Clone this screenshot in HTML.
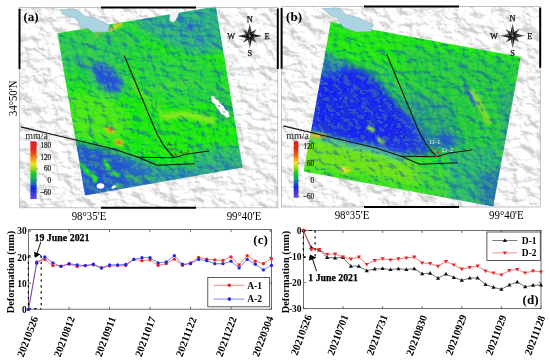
<!DOCTYPE html>
<html><head><meta charset="utf-8"><title>Deformation maps</title>
<style>
html,body{margin:0;padding:0;background:#fff;}
body{width:550px;height:361px;overflow:hidden;}
svg{display:block;font-family:'Liberation Serif', 'Times New Roman', serif;}
</style></head><body>
<svg width="550" height="361" viewBox="0 0 550 361">

<defs>
<filter id="hs" x="0" y="0" width="100%" height="100%" color-interpolation-filters="sRGB"><feTurbulence type="fractalNoise" baseFrequency="0.07 0.1" numOctaves="4" seed="5" result="n"/><feDiffuseLighting in="n" surfaceScale="7" lighting-color="#fff" diffuseConstant="1.15"><feDistantLight azimuth="315" elevation="50"/></feDiffuseLighting><feComponentTransfer><feFuncR type="linear" slope="0.22" intercept="0.795"/><feFuncG type="linear" slope="0.22" intercept="0.795"/><feFuncB type="linear" slope="0.22" intercept="0.795"/></feComponentTransfer></filter>
<filter id="rtex" x="0" y="0" width="100%" height="100%" color-interpolation-filters="sRGB"><feTurbulence type="fractalNoise" baseFrequency="0.11 0.15" numOctaves="3" seed="9" result="n"/><feDiffuseLighting in="n" surfaceScale="7" lighting-color="#fff" diffuseConstant="1.15" result="l"><feDistantLight azimuth="315" elevation="50"/></feDiffuseLighting><feColorMatrix in="l" type="matrix" values="0 0 0 0 0.16  0 0 0 0 0.3  0 0 0 0 0.75  -1.0 0 0 0 0.47" result="sh"/><feColorMatrix in="l" type="matrix" values="0 0 0 0 0.55  0 0 0 0 0.97  0 0 0 0 0.08  1.5 0 0 0 -1.28" result="hi"/><feMerge><feMergeNode in="SourceGraphic"/><feMergeNode in="sh"/><feMergeNode in="hi"/></feMerge><feComposite operator="in" in2="SourceGraphic"/></filter>
<filter id="bl4" x="-20%" y="-20%" width="140%" height="140%"><feGaussianBlur stdDeviation="3.5"/></filter>
<filter id="bl2" x="-50%" y="-50%" width="200%" height="200%"><feGaussianBlur stdDeviation="2"/></filter>
<filter id="bl1" x="-50%" y="-50%" width="200%" height="200%"><feGaussianBlur stdDeviation="0.9"/></filter>
<linearGradient id="cb" x1="0" y1="0" x2="0" y2="1"><stop offset="0" stop-color="#e21c22"/><stop offset="0.15" stop-color="#e62a1c"/><stop offset="0.233" stop-color="#f05a16"/><stop offset="0.322" stop-color="#f6a814"/><stop offset="0.391" stop-color="#efe618"/><stop offset="0.474" stop-color="#98dc18"/><stop offset="0.56" stop-color="#18c820"/><stop offset="0.643" stop-color="#16b060"/><stop offset="0.734" stop-color="#1868b8"/><stop offset="0.81" stop-color="#1424e8"/><stop offset="1" stop-color="#6a4ad8"/></linearGradient>
<clipPath id="ra"><polygon points="57.4,33.3 215.9,6.4 242.6,167.4 85,195.6"/></clipPath>
<clipPath id="rb"><polygon points="330.8,22.1 520.8,57 493.2,206.4 303.6,171.6"/></clipPath>
</defs>
<rect x="19.5" y="7.5" width="258.3" height="200.3" fill="#fff" filter="url(#hs)"/>
<rect x="281.6" y="6.6" width="258.6" height="200.4" fill="#fff" filter="url(#hs)"/>
<g clip-path="url(#ra)"><g filter="url(#rtex)">
<rect x="0" y="0" width="280" height="210" fill="#14e614"/>
<g filter="url(#bl4)">
<polygon points="135,3 222,3 226,50 200,55 175,48 150,35 135,25" fill="#26a890"/>
<polygon points="56,30 140,15 150,40 160,60 200,60 230,70 232,100 200,100 160,95 120,95 90,88 58,85" fill="#2cb080" opacity="0.3"/>
<polygon points="56,38 120,25 140,45 120,60 90,62 58,75" fill="#2cb87a" opacity="0.5"/>
<polygon points="140,50 200,55 215,90 190,110 150,100" fill="#2eb880" opacity="0.25"/>
<ellipse cx="106" cy="78" rx="22" ry="16" transform="rotate(40 106 78)" fill="#30a890" opacity="0.6"/>
<polygon points="65,95 110,95 130,120 120,140 75,138" fill="#60e620" opacity="0.6"/>
<polygon points="72,142 113,151 139,159 157,167 195,166 245,160 245,205 70,205" fill="#2870c4"/>
<polygon points="72,142 113,151 130,160 125,185 90,195 70,190" fill="#1c50d8" opacity="0.7"/>
<polygon points="150,168 200,165 200,205 150,205" fill="#28a0a0" opacity="0.6"/>
<polygon points="195,150 245,145 245,172 195,178" fill="#2aa890" opacity="0.8"/>
<polygon points="208,92 228,95 234,122 218,122" fill="#3070c8" opacity="0.35"/>
</g>
<g filter="url(#bl2)">
<polygon points="91,66 100,62 111,67 121,80 121,92 108,92 97,80" fill="#2454dc"/>
<polygon points="72,58 78,57 92,68 88,72" fill="#2a70c8" opacity="0.7"/>
<ellipse cx="190" cy="27" rx="4" ry="6" fill="#2860d0"/>
<ellipse cx="200" cy="40" rx="3" ry="4" fill="#2860d0"/>
<ellipse cx="181" cy="19" rx="3" ry="3" fill="#2860d0" opacity="0.8"/>
<polyline points="160,117 185,114 215,121" fill="none" stroke="#a8e820" stroke-width="5"/>
<polyline points="130,82 145,98 162,112" fill="none" stroke="#80e820" stroke-width="3" opacity="0.8"/>
<polyline points="150,92 172,84 195,80" fill="none" stroke="#70e820" stroke-width="2.5" opacity="0.7"/>
</g><g filter="url(#bl1)">
<polyline points="75,160 81,166 90,173 97,180" fill="none" stroke="#18f018" stroke-width="4"/>
<polyline points="103,160 107,165 110,170" fill="none" stroke="#20e828" stroke-width="4"/>
<polyline points="111,173 120,175.5" fill="none" stroke="#20e828" stroke-width="3.5"/>
<polyline points="93,181 97,182" fill="none" stroke="#30e030" stroke-width="2.5"/>
<polyline points="115,187 119,185" fill="none" stroke="#30e030" stroke-width="2.5"/>
<polyline points="112,152 130,157 148,162" fill="none" stroke="#30c070" stroke-width="4" opacity="0.7"/>
<polyline points="125,176 140,180 155,176" fill="none" stroke="#28c848" stroke-width="4" opacity="0.6"/>
</g>
<g filter="url(#bl1)">
<ellipse cx="110" cy="130" rx="5" ry="3" transform="rotate(30 110 130)" fill="#e8e020"/>
<ellipse cx="119" cy="142.5" rx="5" ry="3" transform="rotate(25 119 142.5)" fill="#e8e020"/>
<ellipse cx="110" cy="130" rx="3.2" ry="1.6" transform="rotate(30 110 130)" fill="#f03010"/>
<ellipse cx="119" cy="142.5" rx="3.2" ry="1.6" transform="rotate(25 119 142.5)" fill="#f03010"/>
<polyline points="122,23.5 115,26.5 110,31.5" fill="none" stroke="#c8e620" stroke-width="4"/>
<ellipse cx="118.5" cy="24.5" rx="2" ry="1.3" fill="#f0b010"/>
<ellipse cx="98" cy="34" rx="3.5" ry="2" fill="#90e020"/>
</g>
</g></g>
<polygon points="211,96.5 214,96 215.5,99 218.5,100.5 220,103.5 223.5,106 225,109.5 228.5,112 229.5,116.5 227,118 224.5,115.5 221,113.5 219,110 216.5,107.5 215,104 212.5,102.5 211.5,100" fill="#fafafa"/>
<circle cx="219" cy="106" r="0.8" fill="#3060d0"/><circle cx="224" cy="112" r="0.7" fill="#3060d0"/><circle cx="223" cy="104" r="1.1" fill="#2858d8"/><circle cx="226.5" cy="109" r="1" fill="#2858d8"/><circle cx="210" cy="99" r="0.9" fill="#2858d8"/>
<ellipse cx="100.5" cy="186" rx="3.8" ry="2.8" fill="#fff"/>
<ellipse cx="113.7" cy="187" rx="2.6" ry="1.3" transform="rotate(-30 113.7 187)" fill="#fff"/>
<path d="M170,12.5 L179.5,10 C178.5,15 177,19 174,22 C172,22.5 170,21 169.5,19.5 C169.8,17 170.5,15 170,12.5 Z" fill="#f4f4f4"/>
<g clip-path="url(#rb)"><g filter="url(#rtex)">
<rect x="280" y="0" width="270" height="210" fill="#18e418"/>
<g filter="url(#bl4)">
<polygon points="300,58 326,56 341,61 366,70 378,79 391,95 407,111 420,128 428,140 432,153 401,157 371,148 352,145 310,133 300,131" fill="#1a30ec"/>
<polygon points="318,78 360,72 395,105 410,140 360,140 318,125" fill="#1420f4"/>
<polygon points="300,52 326,50 348,60 338,72 300,78" fill="#2aa890" opacity="0.55"/>
<polygon points="366,64 380,74 393,92 409,108 418,120 425,112 412,92 395,72 375,60" fill="#2a9aa0" opacity="0.5"/>
<polygon points="300,133 352,146 371,149 401,158 421,165 425,215 300,215" fill="#6ae01e"/>
<polygon points="418,162 450,158 455,215 418,215" fill="#30d040"/>
<polygon points="300,165 360,172 425,186 425,215 300,215" fill="#28e020" opacity="0.8"/>
<polygon points="448,155 500,145 500,215 452,215" fill="#28a098" opacity="0.75"/>
<polygon points="478,175 505,165 505,215 478,215" fill="#2050d0" opacity="0.6"/>
<polygon points="502,95 525,85 525,210 502,210" fill="#2a70c0" opacity="0.6"/>
<polygon points="400,45 520,62 515,110 500,150 440,160 415,120" fill="#28a080" opacity="0.45"/>
<polygon points="405,95 450,100 455,140 420,150" fill="#2870c0" opacity="0.4"/>
<ellipse cx="446" cy="141" rx="14" ry="9" fill="#2050d8" opacity="0.85"/>
</g>
<g filter="url(#bl1)">
<polyline points="464,84 469,94 476,106" fill="none" stroke="#2050d0" stroke-width="3"/>
<polyline points="472,90 478,101 484,113 489,124" fill="none" stroke="#b8e820" stroke-width="6" opacity="0.6"/>
<ellipse cx="371" cy="129" rx="4.5" ry="1.8" transform="rotate(30 371 129)" fill="#a0e830"/>
<ellipse cx="381" cy="140.5" rx="4.5" ry="2" transform="rotate(25 381 140.5)" fill="#a0e830"/>
<ellipse cx="318" cy="135.5" rx="9" ry="2.5" fill="#e8c020"/>
<ellipse cx="345" cy="170" rx="6" ry="3" fill="#e0e820"/>
</g>
</g></g>
<polygon points="59.4,9.4 77.4,9.4 84.4,15.9 95.3,18.1 109.5,25.2 108.4,30.6 109.5,31.7 93.2,32.3 87.2,28.1 81.2,28.1 79.0,23.0 75.2,18.1 68.1,17.0" fill="#abd3e2" stroke="#8fa8b4" stroke-width="0.5"/>
<polygon points="322.3,8.3 339.8,8.3 346.3,14.8 358.7,17.8 372.9,24.3 373.5,26.0 370.6,28.4 371.7,31.4 356.4,32.0 343.4,27.2 340.4,23.7 338.6,19.5 336.3,17.0 330.4,15.4" fill="#abd3e2" stroke="#8fa8b4" stroke-width="0.5"/>
<polyline points="20.8,126.9 74.6,139.7 113.6,149.0 139.0,157.5 157.1,165.2 194.9,163.7" fill="none" stroke="#111" stroke-width="1.1" stroke-linejoin="round"/>
<polyline points="137.3,157.3 174.2,157.8 185.5,154.2 209.1,151.0" fill="none" stroke="#111" stroke-width="1.1" stroke-linejoin="round"/>
<polyline points="124.2,55.5 156.5,133.0 163.0,144.2 167.7,150.7 174.2,157.8" fill="none" stroke="#111" stroke-width="1.1" stroke-linejoin="round"/>
<polyline points="283.4,125.9 337.2,138.7 376.2,148.0 401.6,156.5 419.7,164.2 457.5,162.7" fill="none" stroke="#111" stroke-width="1.1" stroke-linejoin="round"/>
<polyline points="399.9,156.3 436.8,156.8 448.1,153.2 471.7,150.0" fill="none" stroke="#111" stroke-width="1.1" stroke-linejoin="round"/>
<polyline points="386.8,54.5 419.1,132.0 425.6,143.2 430.3,149.7 436.8,156.8" fill="none" stroke="#111" stroke-width="1.1" stroke-linejoin="round"/>
<circle cx="171.9" cy="149.5" r="1.1" fill="#e0301c"/><circle cx="175.4" cy="154" r="1.1" fill="#e0301c"/>
<text x="166.5" y="146" font-size="7" fill="#333">A-1</text><text x="178.4" y="153.5" font-size="7" fill="#333">A-2</text>
<circle cx="433.6" cy="148.5" r="1.1" fill="#e0301c"/><circle cx="437.9" cy="152.4" r="1.1" fill="#e0301c"/><circle cx="436.6" cy="156" r="1.1" fill="#e0301c"/>
<text x="429.5" y="143.5" font-size="7" fill="#e8e8f0">D-1</text><text x="442" y="152" font-size="7" fill="#e8e8f0">D-2</text>
<rect x="19.5" y="7.5" width="258.3" height="200.3" fill="none" stroke="#b4b4b4" stroke-width="0.8"/>
<line x1="101" y1="7.5" x2="196" y2="7.5" stroke="#000" stroke-width="2"/>
<line x1="101" y1="207.8" x2="196" y2="207.8" stroke="#000" stroke-width="2"/>
<line x1="19.5" y1="8.8" x2="19.5" y2="69" stroke="#000" stroke-width="2"/>
<line x1="277.8" y1="8.5" x2="277.8" y2="69" stroke="#000" stroke-width="2"/>
<rect x="281.6" y="6.6" width="258.6" height="200.4" fill="none" stroke="#b4b4b4" stroke-width="0.8"/>
<line x1="364" y1="6.6" x2="459" y2="6.6" stroke="#000" stroke-width="2"/>
<line x1="364" y1="207.0" x2="459" y2="207.0" stroke="#000" stroke-width="2"/>
<line x1="281.6" y1="8" x2="281.6" y2="68.7" stroke="#000" stroke-width="2"/>
<line x1="540.2" y1="7.6" x2="540.2" y2="67.7" stroke="#000" stroke-width="2"/>
<path d="M249.80,36.00L247.54,33.74L249.80,23.70Z" fill="#111"/><path d="M249.80,36.00L252.06,33.74L249.80,23.70Z" fill="#444"/><path d="M249.80,36.00L249.80,33.30L256.59,29.21Z" fill="#111"/><path d="M249.80,36.00L252.50,36.00L256.59,29.21Z" fill="#444"/><path d="M249.80,36.00L252.06,33.74L262.10,36.00Z" fill="#111"/><path d="M249.80,36.00L252.06,38.26L262.10,36.00Z" fill="#444"/><path d="M249.80,36.00L252.50,36.00L256.59,42.79Z" fill="#111"/><path d="M249.80,36.00L249.80,38.70L256.59,42.79Z" fill="#444"/><path d="M249.80,36.00L252.06,38.26L249.80,48.30Z" fill="#111"/><path d="M249.80,36.00L247.54,38.26L249.80,48.30Z" fill="#444"/><path d="M249.80,36.00L249.80,38.70L243.01,42.79Z" fill="#111"/><path d="M249.80,36.00L247.10,36.00L243.01,42.79Z" fill="#444"/><path d="M249.80,36.00L247.54,38.26L237.50,36.00Z" fill="#111"/><path d="M249.80,36.00L247.54,33.74L237.50,36.00Z" fill="#444"/><path d="M249.80,36.00L247.10,36.00L243.01,29.21Z" fill="#111"/><path d="M249.80,36.00L249.80,33.30L243.01,29.21Z" fill="#444"/><circle cx="249.8" cy="36" r="1.2" fill="#777"/>
<text x="249.8" y="21.6" font-size="8.4" text-anchor="middle" fill="#111" stroke="#111" stroke-width="0.25">N</text>
<text x="249.8" y="56.3" font-size="8.4" text-anchor="middle" fill="#111" stroke="#111" stroke-width="0.25">S</text>
<text x="231.10000000000002" y="38.9" font-size="8.4" text-anchor="middle" fill="#111" stroke="#111" stroke-width="0.25">W</text>
<text x="267.0" y="38.9" font-size="8.4" text-anchor="middle" fill="#111" stroke="#111" stroke-width="0.25">E</text>
<path d="M512.60,35.70L510.34,33.44L512.60,23.40Z" fill="#111"/><path d="M512.60,35.70L514.86,33.44L512.60,23.40Z" fill="#444"/><path d="M512.60,35.70L512.60,33.00L519.39,28.91Z" fill="#111"/><path d="M512.60,35.70L515.30,35.70L519.39,28.91Z" fill="#444"/><path d="M512.60,35.70L514.86,33.44L524.90,35.70Z" fill="#111"/><path d="M512.60,35.70L514.86,37.96L524.90,35.70Z" fill="#444"/><path d="M512.60,35.70L515.30,35.70L519.39,42.49Z" fill="#111"/><path d="M512.60,35.70L512.60,38.40L519.39,42.49Z" fill="#444"/><path d="M512.60,35.70L514.86,37.96L512.60,48.00Z" fill="#111"/><path d="M512.60,35.70L510.34,37.96L512.60,48.00Z" fill="#444"/><path d="M512.60,35.70L512.60,38.40L505.81,42.49Z" fill="#111"/><path d="M512.60,35.70L509.90,35.70L505.81,42.49Z" fill="#444"/><path d="M512.60,35.70L510.34,37.96L500.30,35.70Z" fill="#111"/><path d="M512.60,35.70L510.34,33.44L500.30,35.70Z" fill="#444"/><path d="M512.60,35.70L509.90,35.70L505.81,28.91Z" fill="#111"/><path d="M512.60,35.70L512.60,33.00L505.81,28.91Z" fill="#444"/><circle cx="512.6" cy="35.7" r="1.2" fill="#777"/>
<text x="512.6" y="21.300000000000004" font-size="8.4" text-anchor="middle" fill="#111" stroke="#111" stroke-width="0.25">N</text>
<text x="512.6" y="56.0" font-size="8.4" text-anchor="middle" fill="#111" stroke="#111" stroke-width="0.25">S</text>
<text x="493.90000000000003" y="38.6" font-size="8.4" text-anchor="middle" fill="#111" stroke="#111" stroke-width="0.25">W</text>
<text x="529.8000000000001" y="38.6" font-size="8.4" text-anchor="middle" fill="#111" stroke="#111" stroke-width="0.25">E</text>
<rect x="30.4" y="141.4" width="6.2" height="57.69999999999999" fill="url(#cb)"/>
<line x1="36.6" y1="145" x2="38.1" y2="145" stroke="#333" stroke-width="0.6"/>
<text x="51.2" y="147.5" font-size="7.2" text-anchor="end" fill="#1a1a1a" stroke="#1a1a1a" stroke-width="0.22">180</text>
<line x1="36.6" y1="157" x2="38.1" y2="157" stroke="#333" stroke-width="0.6"/>
<text x="51.2" y="159.5" font-size="7.2" text-anchor="end" fill="#1a1a1a" stroke="#1a1a1a" stroke-width="0.22">120</text>
<line x1="36.6" y1="168.9" x2="38.1" y2="168.9" stroke="#333" stroke-width="0.6"/>
<text x="51.2" y="171.4" font-size="7.2" text-anchor="end" fill="#1a1a1a" stroke="#1a1a1a" stroke-width="0.22">60</text>
<line x1="36.6" y1="180" x2="38.1" y2="180" stroke="#333" stroke-width="0.6"/>
<text x="51.2" y="182.5" font-size="7.2" text-anchor="end" fill="#1a1a1a" stroke="#1a1a1a" stroke-width="0.22">0</text>
<line x1="36.6" y1="192" x2="38.1" y2="192" stroke="#333" stroke-width="0.6"/>
<text x="51.2" y="194.5" font-size="7.2" text-anchor="end" fill="#1a1a1a" stroke="#1a1a1a" stroke-width="0.22">−60</text>
<text x="25.2" y="139" font-size="10" fill="#222">mm/a</text>
<rect x="293.7" y="141.2" width="4.7" height="56.60000000000002" fill="url(#cb)"/>
<line x1="298.4" y1="146.2" x2="299.9" y2="146.2" stroke="#333" stroke-width="0.6"/>
<text x="314.2" y="148.7" font-size="7.2" text-anchor="end" fill="#1a1a1a" stroke="#1a1a1a" stroke-width="0.22">120</text>
<line x1="298.4" y1="163.3" x2="299.9" y2="163.3" stroke="#333" stroke-width="0.6"/>
<text x="314.2" y="165.8" font-size="7.2" text-anchor="end" fill="#1a1a1a" stroke="#1a1a1a" stroke-width="0.22">60</text>
<line x1="298.4" y1="180.5" x2="299.9" y2="180.5" stroke="#333" stroke-width="0.6"/>
<text x="314.2" y="183.0" font-size="7.2" text-anchor="end" fill="#1a1a1a" stroke="#1a1a1a" stroke-width="0.22">0</text>
<line x1="298.4" y1="196.4" x2="299.9" y2="196.4" stroke="#333" stroke-width="0.6"/>
<text x="314.2" y="198.9" font-size="7.2" text-anchor="end" fill="#1a1a1a" stroke="#1a1a1a" stroke-width="0.22">−60</text>
<text x="286.2" y="139.4" font-size="10" fill="#222">mm/a</text>
<text x="23.4" y="21.4" font-size="13" font-weight="bold">(a)</text>
<text x="286.1" y="20.7" font-size="13" font-weight="bold">(b)</text>
<text x="89" y="219.5" font-size="11.9" text-anchor="middle" textLength="34.6" lengthAdjust="spacingAndGlyphs">98°35&#39;E</text>
<text x="244" y="219.5" font-size="11.9" text-anchor="middle" textLength="34.6" lengthAdjust="spacingAndGlyphs">99°40&#39;E</text>
<text x="352" y="218.8" font-size="11.9" text-anchor="middle" textLength="34.6" lengthAdjust="spacingAndGlyphs">98°35&#39;E</text>
<text x="506.4" y="218.8" font-size="11.9" text-anchor="middle" textLength="34.6" lengthAdjust="spacingAndGlyphs">99°40&#39;E</text>
<text transform="translate(17.2,98.3) rotate(-90)" font-size="11.9" text-anchor="middle" textLength="35.3" lengthAdjust="spacingAndGlyphs">34°50&#39;N</text>
<rect x="28.6" y="229.6" width="242.9" height="79.6" fill="#fff" stroke="#4d4d4d" stroke-width="0.8"/>
<line x1="28.6" y1="231" x2="31.1" y2="231" stroke="#4d4d4d" stroke-width="0.8"/>
<line x1="271.5" y1="231" x2="269.0" y2="231" stroke="#4d4d4d" stroke-width="0.8"/>
<text x="26.8" y="234.3" text-anchor="end" font-size="9.5" font-weight="bold">30</text>
<line x1="28.6" y1="257.3" x2="31.1" y2="257.3" stroke="#4d4d4d" stroke-width="0.8"/>
<line x1="271.5" y1="257.3" x2="269.0" y2="257.3" stroke="#4d4d4d" stroke-width="0.8"/>
<text x="26.8" y="260.6" text-anchor="end" font-size="9.5" font-weight="bold">20</text>
<line x1="28.6" y1="283.2" x2="31.1" y2="283.2" stroke="#4d4d4d" stroke-width="0.8"/>
<line x1="271.5" y1="283.2" x2="269.0" y2="283.2" stroke="#4d4d4d" stroke-width="0.8"/>
<text x="26.8" y="286.5" text-anchor="end" font-size="9.5" font-weight="bold">10</text>
<line x1="28.6" y1="309.2" x2="31.1" y2="309.2" stroke="#4d4d4d" stroke-width="0.8"/>
<line x1="271.5" y1="309.2" x2="269.0" y2="309.2" stroke="#4d4d4d" stroke-width="0.8"/>
<text x="26.8" y="312.5" text-anchor="end" font-size="9.5" font-weight="bold">0</text>
<line x1="28.60" y1="309.2" x2="28.60" y2="306.7" stroke="#4d4d4d" stroke-width="0.8"/>
<line x1="28.60" y1="229.6" x2="28.60" y2="232.1" stroke="#4d4d4d" stroke-width="0.8"/>
<text transform="translate(23.60,357.80) rotate(-69.5)" font-size="10.6" font-weight="bold">20210526</text>
<line x1="69.08" y1="309.2" x2="69.08" y2="306.7" stroke="#4d4d4d" stroke-width="0.8"/>
<line x1="69.08" y1="229.6" x2="69.08" y2="232.1" stroke="#4d4d4d" stroke-width="0.8"/>
<text transform="translate(60.30,357.80) rotate(-69.5)" font-size="10.6" font-weight="bold">20210812</text>
<line x1="109.57" y1="309.2" x2="109.57" y2="306.7" stroke="#4d4d4d" stroke-width="0.8"/>
<line x1="109.57" y1="229.6" x2="109.57" y2="232.1" stroke="#4d4d4d" stroke-width="0.8"/>
<text transform="translate(101.40,357.50) rotate(-69.5)" font-size="10.6" font-weight="bold">20210911</text>
<line x1="150.05" y1="309.2" x2="150.05" y2="306.7" stroke="#4d4d4d" stroke-width="0.8"/>
<line x1="150.05" y1="229.6" x2="150.05" y2="232.1" stroke="#4d4d4d" stroke-width="0.8"/>
<text transform="translate(141.40,357.50) rotate(-69.5)" font-size="10.6" font-weight="bold">20211017</text>
<line x1="190.53" y1="309.2" x2="190.53" y2="306.7" stroke="#4d4d4d" stroke-width="0.8"/>
<line x1="190.53" y1="229.6" x2="190.53" y2="232.1" stroke="#4d4d4d" stroke-width="0.8"/>
<text transform="translate(182.30,357.50) rotate(-69.5)" font-size="10.6" font-weight="bold">20211122</text>
<line x1="231.02" y1="309.2" x2="231.02" y2="306.7" stroke="#4d4d4d" stroke-width="0.8"/>
<line x1="231.02" y1="229.6" x2="231.02" y2="232.1" stroke="#4d4d4d" stroke-width="0.8"/>
<text transform="translate(222.20,357.50) rotate(-69.5)" font-size="10.6" font-weight="bold">20211222</text>
<line x1="271.50" y1="309.2" x2="271.50" y2="306.7" stroke="#4d4d4d" stroke-width="0.8"/>
<line x1="271.50" y1="229.6" x2="271.50" y2="232.1" stroke="#4d4d4d" stroke-width="0.8"/>
<text transform="translate(258.70,357.50) rotate(-69.5)" font-size="10.6" font-weight="bold">20220304</text>
<line x1="28.4" y1="255.8" x2="28.4" y2="309.2" stroke="#000" stroke-width="1.2" stroke-dasharray="2.2,3.7"/>
<line x1="41.2" y1="255.8" x2="41.2" y2="309.2" stroke="#000" stroke-width="1.2" stroke-dasharray="2.2,3.7"/>
<line x1="28.4" y1="255.8" x2="41.2" y2="255.8" stroke="#000" stroke-width="1.2" stroke-dasharray="2.2,3.7"/>
<line x1="28.4" y1="308.6" x2="41.2" y2="308.6" stroke="#000" stroke-width="1.2" stroke-dasharray="2.2,3.7"/>
<polyline points="28.60,309.30 36.70,261.90 44.79,259.40 52.89,265.60 60.99,266.10 69.08,264.20 77.18,266.60 85.28,265.60 93.37,264.90 101.47,267.90 109.57,266.10 117.66,265.60 125.76,265.60 133.86,259.40 141.95,260.70 150.05,259.90 158.15,265.40 166.24,263.70 174.34,259.20 182.44,265.40 190.53,262.90 198.63,257.40 206.73,259.20 214.82,259.90 222.92,260.40 231.02,256.90 239.11,264.90 247.21,255.70 255.31,261.20 263.40,263.70 271.50,258.70" fill="none" stroke="#e8262a" stroke-width="0.6"/>
<circle cx="28.60" cy="309.30" r="1.65" fill="#e8262a"/>
<circle cx="36.70" cy="261.90" r="1.65" fill="#e8262a"/>
<circle cx="44.79" cy="259.40" r="1.65" fill="#e8262a"/>
<circle cx="52.89" cy="265.60" r="1.65" fill="#e8262a"/>
<circle cx="60.99" cy="266.10" r="1.65" fill="#e8262a"/>
<circle cx="69.08" cy="264.20" r="1.65" fill="#e8262a"/>
<circle cx="77.18" cy="266.60" r="1.65" fill="#e8262a"/>
<circle cx="85.28" cy="265.60" r="1.65" fill="#e8262a"/>
<circle cx="93.37" cy="264.90" r="1.65" fill="#e8262a"/>
<circle cx="101.47" cy="267.90" r="1.65" fill="#e8262a"/>
<circle cx="109.57" cy="266.10" r="1.65" fill="#e8262a"/>
<circle cx="117.66" cy="265.60" r="1.65" fill="#e8262a"/>
<circle cx="125.76" cy="265.60" r="1.65" fill="#e8262a"/>
<circle cx="133.86" cy="259.40" r="1.65" fill="#e8262a"/>
<circle cx="141.95" cy="260.70" r="1.65" fill="#e8262a"/>
<circle cx="150.05" cy="259.90" r="1.65" fill="#e8262a"/>
<circle cx="158.15" cy="265.40" r="1.65" fill="#e8262a"/>
<circle cx="166.24" cy="263.70" r="1.65" fill="#e8262a"/>
<circle cx="174.34" cy="259.20" r="1.65" fill="#e8262a"/>
<circle cx="182.44" cy="265.40" r="1.65" fill="#e8262a"/>
<circle cx="190.53" cy="262.90" r="1.65" fill="#e8262a"/>
<circle cx="198.63" cy="257.40" r="1.65" fill="#e8262a"/>
<circle cx="206.73" cy="259.20" r="1.65" fill="#e8262a"/>
<circle cx="214.82" cy="259.90" r="1.65" fill="#e8262a"/>
<circle cx="222.92" cy="260.40" r="1.65" fill="#e8262a"/>
<circle cx="231.02" cy="256.90" r="1.65" fill="#e8262a"/>
<circle cx="239.11" cy="264.90" r="1.65" fill="#e8262a"/>
<circle cx="247.21" cy="255.70" r="1.65" fill="#e8262a"/>
<circle cx="255.31" cy="261.20" r="1.65" fill="#e8262a"/>
<circle cx="263.40" cy="263.70" r="1.65" fill="#e8262a"/>
<circle cx="271.50" cy="258.70" r="1.65" fill="#e8262a"/>
<polyline points="28.60,309.30 36.70,263.20 44.79,256.90 52.89,262.90 60.99,266.40 69.08,263.70 77.18,264.90 85.28,265.60 93.37,264.20 101.47,267.90 109.57,264.90 117.66,264.90 125.76,264.40 133.86,259.40 141.95,257.70 150.05,257.70 158.15,262.90 166.24,261.90 174.34,255.70 182.44,264.20 190.53,263.70 198.63,259.40 206.73,260.70 214.82,263.70 222.92,263.70 231.02,261.20 239.11,267.90 247.21,259.40 255.31,264.20 263.40,269.90 271.50,265.40" fill="none" stroke="#1f28e0" stroke-width="0.6"/>
<circle cx="28.60" cy="309.30" r="1.65" fill="#1f28e0"/>
<circle cx="36.70" cy="263.20" r="1.65" fill="#1f28e0"/>
<circle cx="44.79" cy="256.90" r="1.65" fill="#1f28e0"/>
<circle cx="52.89" cy="262.90" r="1.65" fill="#1f28e0"/>
<circle cx="60.99" cy="266.40" r="1.65" fill="#1f28e0"/>
<circle cx="69.08" cy="263.70" r="1.65" fill="#1f28e0"/>
<circle cx="77.18" cy="264.90" r="1.65" fill="#1f28e0"/>
<circle cx="85.28" cy="265.60" r="1.65" fill="#1f28e0"/>
<circle cx="93.37" cy="264.20" r="1.65" fill="#1f28e0"/>
<circle cx="101.47" cy="267.90" r="1.65" fill="#1f28e0"/>
<circle cx="109.57" cy="264.90" r="1.65" fill="#1f28e0"/>
<circle cx="117.66" cy="264.90" r="1.65" fill="#1f28e0"/>
<circle cx="125.76" cy="264.40" r="1.65" fill="#1f28e0"/>
<circle cx="133.86" cy="259.40" r="1.65" fill="#1f28e0"/>
<circle cx="141.95" cy="257.70" r="1.65" fill="#1f28e0"/>
<circle cx="150.05" cy="257.70" r="1.65" fill="#1f28e0"/>
<circle cx="158.15" cy="262.90" r="1.65" fill="#1f28e0"/>
<circle cx="166.24" cy="261.90" r="1.65" fill="#1f28e0"/>
<circle cx="174.34" cy="255.70" r="1.65" fill="#1f28e0"/>
<circle cx="182.44" cy="264.20" r="1.65" fill="#1f28e0"/>
<circle cx="190.53" cy="263.70" r="1.65" fill="#1f28e0"/>
<circle cx="198.63" cy="259.40" r="1.65" fill="#1f28e0"/>
<circle cx="206.73" cy="260.70" r="1.65" fill="#1f28e0"/>
<circle cx="214.82" cy="263.70" r="1.65" fill="#1f28e0"/>
<circle cx="222.92" cy="263.70" r="1.65" fill="#1f28e0"/>
<circle cx="231.02" cy="261.20" r="1.65" fill="#1f28e0"/>
<circle cx="239.11" cy="267.90" r="1.65" fill="#1f28e0"/>
<circle cx="247.21" cy="259.40" r="1.65" fill="#1f28e0"/>
<circle cx="255.31" cy="264.20" r="1.65" fill="#1f28e0"/>
<circle cx="263.40" cy="269.90" r="1.65" fill="#1f28e0"/>
<circle cx="271.50" cy="265.40" r="1.65" fill="#1f28e0"/>
<rect x="303.4" y="230.5" width="237.60000000000002" height="78.10000000000002" fill="#fff" stroke="#4d4d4d" stroke-width="0.8"/>
<line x1="303.4" y1="230.5" x2="305.9" y2="230.5" stroke="#4d4d4d" stroke-width="0.8"/>
<line x1="541.0" y1="230.5" x2="538.5" y2="230.5" stroke="#4d4d4d" stroke-width="0.8"/>
<text x="301.59999999999997" y="233.8" text-anchor="end" font-size="9.5" font-weight="bold">0</text>
<line x1="303.4" y1="256.5" x2="305.9" y2="256.5" stroke="#4d4d4d" stroke-width="0.8"/>
<line x1="541.0" y1="256.5" x2="538.5" y2="256.5" stroke="#4d4d4d" stroke-width="0.8"/>
<text x="301.59999999999997" y="259.8" text-anchor="end" font-size="9.5" font-weight="bold">-10</text>
<line x1="303.4" y1="282.6" x2="305.9" y2="282.6" stroke="#4d4d4d" stroke-width="0.8"/>
<line x1="541.0" y1="282.6" x2="538.5" y2="282.6" stroke="#4d4d4d" stroke-width="0.8"/>
<text x="301.59999999999997" y="285.90000000000003" text-anchor="end" font-size="9.5" font-weight="bold">-20</text>
<line x1="303.4" y1="308.6" x2="305.9" y2="308.6" stroke="#4d4d4d" stroke-width="0.8"/>
<line x1="541.0" y1="308.6" x2="538.5" y2="308.6" stroke="#4d4d4d" stroke-width="0.8"/>
<text x="301.59999999999997" y="311.90000000000003" text-anchor="end" font-size="9.5" font-weight="bold">-30</text>
<line x1="303.40" y1="308.6" x2="303.40" y2="306.1" stroke="#4d4d4d" stroke-width="0.8"/>
<line x1="303.40" y1="230.5" x2="303.40" y2="233.0" stroke="#4d4d4d" stroke-width="0.8"/>
<text transform="translate(297.20,355.90) rotate(-69.5)" font-size="10.6" font-weight="bold">20210526</text>
<line x1="343.00" y1="308.6" x2="343.00" y2="306.1" stroke="#4d4d4d" stroke-width="0.8"/>
<line x1="343.00" y1="230.5" x2="343.00" y2="233.0" stroke="#4d4d4d" stroke-width="0.8"/>
<text transform="translate(333.70,355.90) rotate(-69.5)" font-size="10.6" font-weight="bold">20210701</text>
<line x1="382.60" y1="308.6" x2="382.60" y2="306.1" stroke="#4d4d4d" stroke-width="0.8"/>
<line x1="382.60" y1="230.5" x2="382.60" y2="233.0" stroke="#4d4d4d" stroke-width="0.8"/>
<text transform="translate(373.00,355.90) rotate(-69.5)" font-size="10.6" font-weight="bold">20210731</text>
<line x1="422.20" y1="308.6" x2="422.20" y2="306.1" stroke="#4d4d4d" stroke-width="0.8"/>
<line x1="422.20" y1="230.5" x2="422.20" y2="233.0" stroke="#4d4d4d" stroke-width="0.8"/>
<text transform="translate(412.60,356.50) rotate(-69.5)" font-size="10.6" font-weight="bold">20210830</text>
<line x1="461.80" y1="308.6" x2="461.80" y2="306.1" stroke="#4d4d4d" stroke-width="0.8"/>
<line x1="461.80" y1="230.5" x2="461.80" y2="233.0" stroke="#4d4d4d" stroke-width="0.8"/>
<text transform="translate(452.00,356.00) rotate(-69.5)" font-size="10.6" font-weight="bold">20210929</text>
<line x1="501.40" y1="308.6" x2="501.40" y2="306.1" stroke="#4d4d4d" stroke-width="0.8"/>
<line x1="501.40" y1="230.5" x2="501.40" y2="233.0" stroke="#4d4d4d" stroke-width="0.8"/>
<text transform="translate(492.00,356.00) rotate(-69.5)" font-size="10.6" font-weight="bold">20211029</text>
<line x1="541.00" y1="308.6" x2="541.00" y2="306.1" stroke="#4d4d4d" stroke-width="0.8"/>
<line x1="541.00" y1="230.5" x2="541.00" y2="233.0" stroke="#4d4d4d" stroke-width="0.8"/>
<text transform="translate(531.00,356.00) rotate(-69.5)" font-size="10.6" font-weight="bold">20211128</text>
<line x1="303.4" y1="230.5" x2="315.1" y2="230.5" stroke="#000" stroke-width="1.2" stroke-dasharray="2.2,3.7"/>
<line x1="315.1" y1="230.5" x2="315.1" y2="257.4" stroke="#000" stroke-width="1.2" stroke-dasharray="2.2,3.7"/>
<line x1="303.4" y1="257.4" x2="315.1" y2="257.4" stroke="#000" stroke-width="1.2" stroke-dasharray="2.2,3.7"/>
<line x1="303.4" y1="230.5" x2="303.4" y2="257.4" stroke="#000" stroke-width="1.2" stroke-dasharray="2.2,3.7"/>
<polyline points="303.40,230.50 311.32,247.40 319.24,249.90 327.16,257.40 335.08,257.90 343.00,257.40 350.92,266.20 358.84,266.20 366.76,270.70 374.68,269.00 382.60,268.50 390.52,269.60 398.44,268.70 406.36,269.40 414.28,268.70 422.20,273.70 430.12,273.20 438.04,278.20 445.96,274.00 453.88,277.40 461.80,280.30 469.72,278.10 477.64,277.90 485.56,284.40 493.48,287.30 501.40,289.30 509.32,284.90 517.24,281.90 525.16,286.80 533.08,285.30 541.00,284.90" fill="none" stroke="#111" stroke-width="0.6"/>
<path d="M303.40,228.30L305.50,232.00L301.30,232.00Z" fill="#111"/>
<path d="M311.32,245.20L313.42,248.90L309.22,248.90Z" fill="#111"/>
<path d="M319.24,247.70L321.34,251.40L317.14,251.40Z" fill="#111"/>
<path d="M327.16,255.20L329.26,258.90L325.06,258.90Z" fill="#111"/>
<path d="M335.08,255.70L337.18,259.40L332.98,259.40Z" fill="#111"/>
<path d="M343.00,255.20L345.10,258.90L340.90,258.90Z" fill="#111"/>
<path d="M350.92,264.00L353.02,267.70L348.82,267.70Z" fill="#111"/>
<path d="M358.84,264.00L360.94,267.70L356.74,267.70Z" fill="#111"/>
<path d="M366.76,268.50L368.86,272.20L364.66,272.20Z" fill="#111"/>
<path d="M374.68,266.80L376.78,270.50L372.58,270.50Z" fill="#111"/>
<path d="M382.60,266.30L384.70,270.00L380.50,270.00Z" fill="#111"/>
<path d="M390.52,267.40L392.62,271.10L388.42,271.10Z" fill="#111"/>
<path d="M398.44,266.50L400.54,270.20L396.34,270.20Z" fill="#111"/>
<path d="M406.36,267.20L408.46,270.90L404.26,270.90Z" fill="#111"/>
<path d="M414.28,266.50L416.38,270.20L412.18,270.20Z" fill="#111"/>
<path d="M422.20,271.50L424.30,275.20L420.10,275.20Z" fill="#111"/>
<path d="M430.12,271.00L432.22,274.70L428.02,274.70Z" fill="#111"/>
<path d="M438.04,276.00L440.14,279.70L435.94,279.70Z" fill="#111"/>
<path d="M445.96,271.80L448.06,275.50L443.86,275.50Z" fill="#111"/>
<path d="M453.88,275.20L455.98,278.90L451.78,278.90Z" fill="#111"/>
<path d="M461.80,278.10L463.90,281.80L459.70,281.80Z" fill="#111"/>
<path d="M469.72,275.90L471.82,279.60L467.62,279.60Z" fill="#111"/>
<path d="M477.64,275.70L479.74,279.40L475.54,279.40Z" fill="#111"/>
<path d="M485.56,282.20L487.66,285.90L483.46,285.90Z" fill="#111"/>
<path d="M493.48,285.10L495.58,288.80L491.38,288.80Z" fill="#111"/>
<path d="M501.40,287.10L503.50,290.80L499.30,290.80Z" fill="#111"/>
<path d="M509.32,282.70L511.42,286.40L507.22,286.40Z" fill="#111"/>
<path d="M517.24,279.70L519.34,283.40L515.14,283.40Z" fill="#111"/>
<path d="M525.16,284.60L527.26,288.30L523.06,288.30Z" fill="#111"/>
<path d="M533.08,283.10L535.18,286.80L530.98,286.80Z" fill="#111"/>
<path d="M541.00,282.70L543.10,286.40L538.90,286.40Z" fill="#111"/>
<polyline points="303.40,230.50 311.32,249.60 319.24,249.60 327.16,254.40 335.08,254.10 343.00,256.90 350.92,259.00 358.84,257.10 366.76,264.40 374.68,260.40 382.60,258.70 390.52,259.90 398.44,258.80 406.36,257.90 414.28,257.10 422.20,262.90 430.12,263.60 438.04,266.20 445.96,261.60 453.88,264.90 461.80,269.10 469.72,267.40 477.64,266.10 485.56,271.10 493.48,272.90 501.40,274.90 509.32,270.60 517.24,269.40 525.16,272.90 533.08,271.10 541.00,271.90" fill="none" stroke="#e8262a" stroke-width="0.6"/>
<path d="M303.40,232.70L305.50,229.00L301.30,229.00Z" fill="#e8262a"/>
<path d="M311.32,251.80L313.42,248.10L309.22,248.10Z" fill="#e8262a"/>
<path d="M319.24,251.80L321.34,248.10L317.14,248.10Z" fill="#e8262a"/>
<path d="M327.16,256.60L329.26,252.90L325.06,252.90Z" fill="#e8262a"/>
<path d="M335.08,256.30L337.18,252.60L332.98,252.60Z" fill="#e8262a"/>
<path d="M343.00,259.10L345.10,255.40L340.90,255.40Z" fill="#e8262a"/>
<path d="M350.92,261.20L353.02,257.50L348.82,257.50Z" fill="#e8262a"/>
<path d="M358.84,259.30L360.94,255.60L356.74,255.60Z" fill="#e8262a"/>
<path d="M366.76,266.60L368.86,262.90L364.66,262.90Z" fill="#e8262a"/>
<path d="M374.68,262.60L376.78,258.90L372.58,258.90Z" fill="#e8262a"/>
<path d="M382.60,260.90L384.70,257.20L380.50,257.20Z" fill="#e8262a"/>
<path d="M390.52,262.10L392.62,258.40L388.42,258.40Z" fill="#e8262a"/>
<path d="M398.44,261.00L400.54,257.30L396.34,257.30Z" fill="#e8262a"/>
<path d="M406.36,260.10L408.46,256.40L404.26,256.40Z" fill="#e8262a"/>
<path d="M414.28,259.30L416.38,255.60L412.18,255.60Z" fill="#e8262a"/>
<path d="M422.20,265.10L424.30,261.40L420.10,261.40Z" fill="#e8262a"/>
<path d="M430.12,265.80L432.22,262.10L428.02,262.10Z" fill="#e8262a"/>
<path d="M438.04,268.40L440.14,264.70L435.94,264.70Z" fill="#e8262a"/>
<path d="M445.96,263.80L448.06,260.10L443.86,260.10Z" fill="#e8262a"/>
<path d="M453.88,267.10L455.98,263.40L451.78,263.40Z" fill="#e8262a"/>
<path d="M461.80,271.30L463.90,267.60L459.70,267.60Z" fill="#e8262a"/>
<path d="M469.72,269.60L471.82,265.90L467.62,265.90Z" fill="#e8262a"/>
<path d="M477.64,268.30L479.74,264.60L475.54,264.60Z" fill="#e8262a"/>
<path d="M485.56,273.30L487.66,269.60L483.46,269.60Z" fill="#e8262a"/>
<path d="M493.48,275.10L495.58,271.40L491.38,271.40Z" fill="#e8262a"/>
<path d="M501.40,277.10L503.50,273.40L499.30,273.40Z" fill="#e8262a"/>
<path d="M509.32,272.80L511.42,269.10L507.22,269.10Z" fill="#e8262a"/>
<path d="M517.24,271.60L519.34,267.90L515.14,267.90Z" fill="#e8262a"/>
<path d="M525.16,275.10L527.26,271.40L523.06,271.40Z" fill="#e8262a"/>
<path d="M533.08,273.30L535.18,269.60L530.98,269.60Z" fill="#e8262a"/>
<path d="M541.00,274.10L543.10,270.40L538.90,270.40Z" fill="#e8262a"/>
<text transform="translate(14.2,272) rotate(-90)" font-size="10.25" font-weight="bold" text-anchor="middle">Deformation (mm)</text>
<text transform="translate(289.4,272) rotate(-90)" font-size="10.25" font-weight="bold" text-anchor="middle">Deformation (mm)</text>
<text x="253.3" y="244.3" font-size="13" font-weight="bold">(c)</text>
<text x="522.6" y="304" font-size="13" font-weight="bold">(d)</text>
<text x="34.5" y="240.8" font-size="9.8" font-weight="bold" stroke="#000" stroke-width="0.25" textLength="55" lengthAdjust="spacingAndGlyphs">19 June 2021</text>
<line x1="40.8" y1="242.1" x2="37" y2="253.5" stroke="#000" stroke-width="0.9"/>
<path d="M35,257.8 L33.9,251.8 L40.6,254.2 Z" fill="#000"/>
<rect x="207.8" y="277.4" width="61.9" height="29.4" fill="#fff" stroke="#333" stroke-width="0.8"/>
<line x1="213.6" y1="285.3" x2="244.3" y2="285.3" stroke="#e8262a" stroke-width="0.55"/><circle cx="229.3" cy="285.3" r="1.8" fill="#e8262a"/>
<line x1="213.6" y1="299.1" x2="244.3" y2="299.1" stroke="#1f28e0" stroke-width="0.55"/><circle cx="229.3" cy="299.1" r="1.8" fill="#1f28e0"/>
<text x="247.2" y="288.6" font-size="9.5" font-weight="bold">A-1</text>
<text x="247.2" y="302.4" font-size="9.5" font-weight="bold">A-2</text>
<rect x="486.9" y="232" width="53.4" height="28.4" fill="#fff" stroke="#333" stroke-width="0.8"/>
<line x1="492.4" y1="240.5" x2="517.3" y2="240.5" stroke="#111" stroke-width="0.55"/><path d="M504.9,238.3L507,242L502.8,242Z" fill="#111"/>
<line x1="492.4" y1="252.9" x2="517.3" y2="252.9" stroke="#e8262a" stroke-width="0.55"/><path d="M504.9,255.1L507,251.4L502.8,251.4Z" fill="#e8262a"/>
<text x="521.8" y="243.8" font-size="9.5" font-weight="bold">D-1</text>
<text x="521.8" y="256.2" font-size="9.5" font-weight="bold">D-2</text>
<line x1="316.6" y1="271.2" x2="312.5" y2="259" stroke="#000" stroke-width="1"/>
<path d="M310,254.6 L309,260.8 L316.4,257.8 Z" fill="#000"/>
<text x="308.3" y="281.4" font-size="9.8" font-weight="bold" stroke="#000" stroke-width="0.25" textLength="49.6" lengthAdjust="spacingAndGlyphs">1 June 2021</text>
</svg></body></html>
